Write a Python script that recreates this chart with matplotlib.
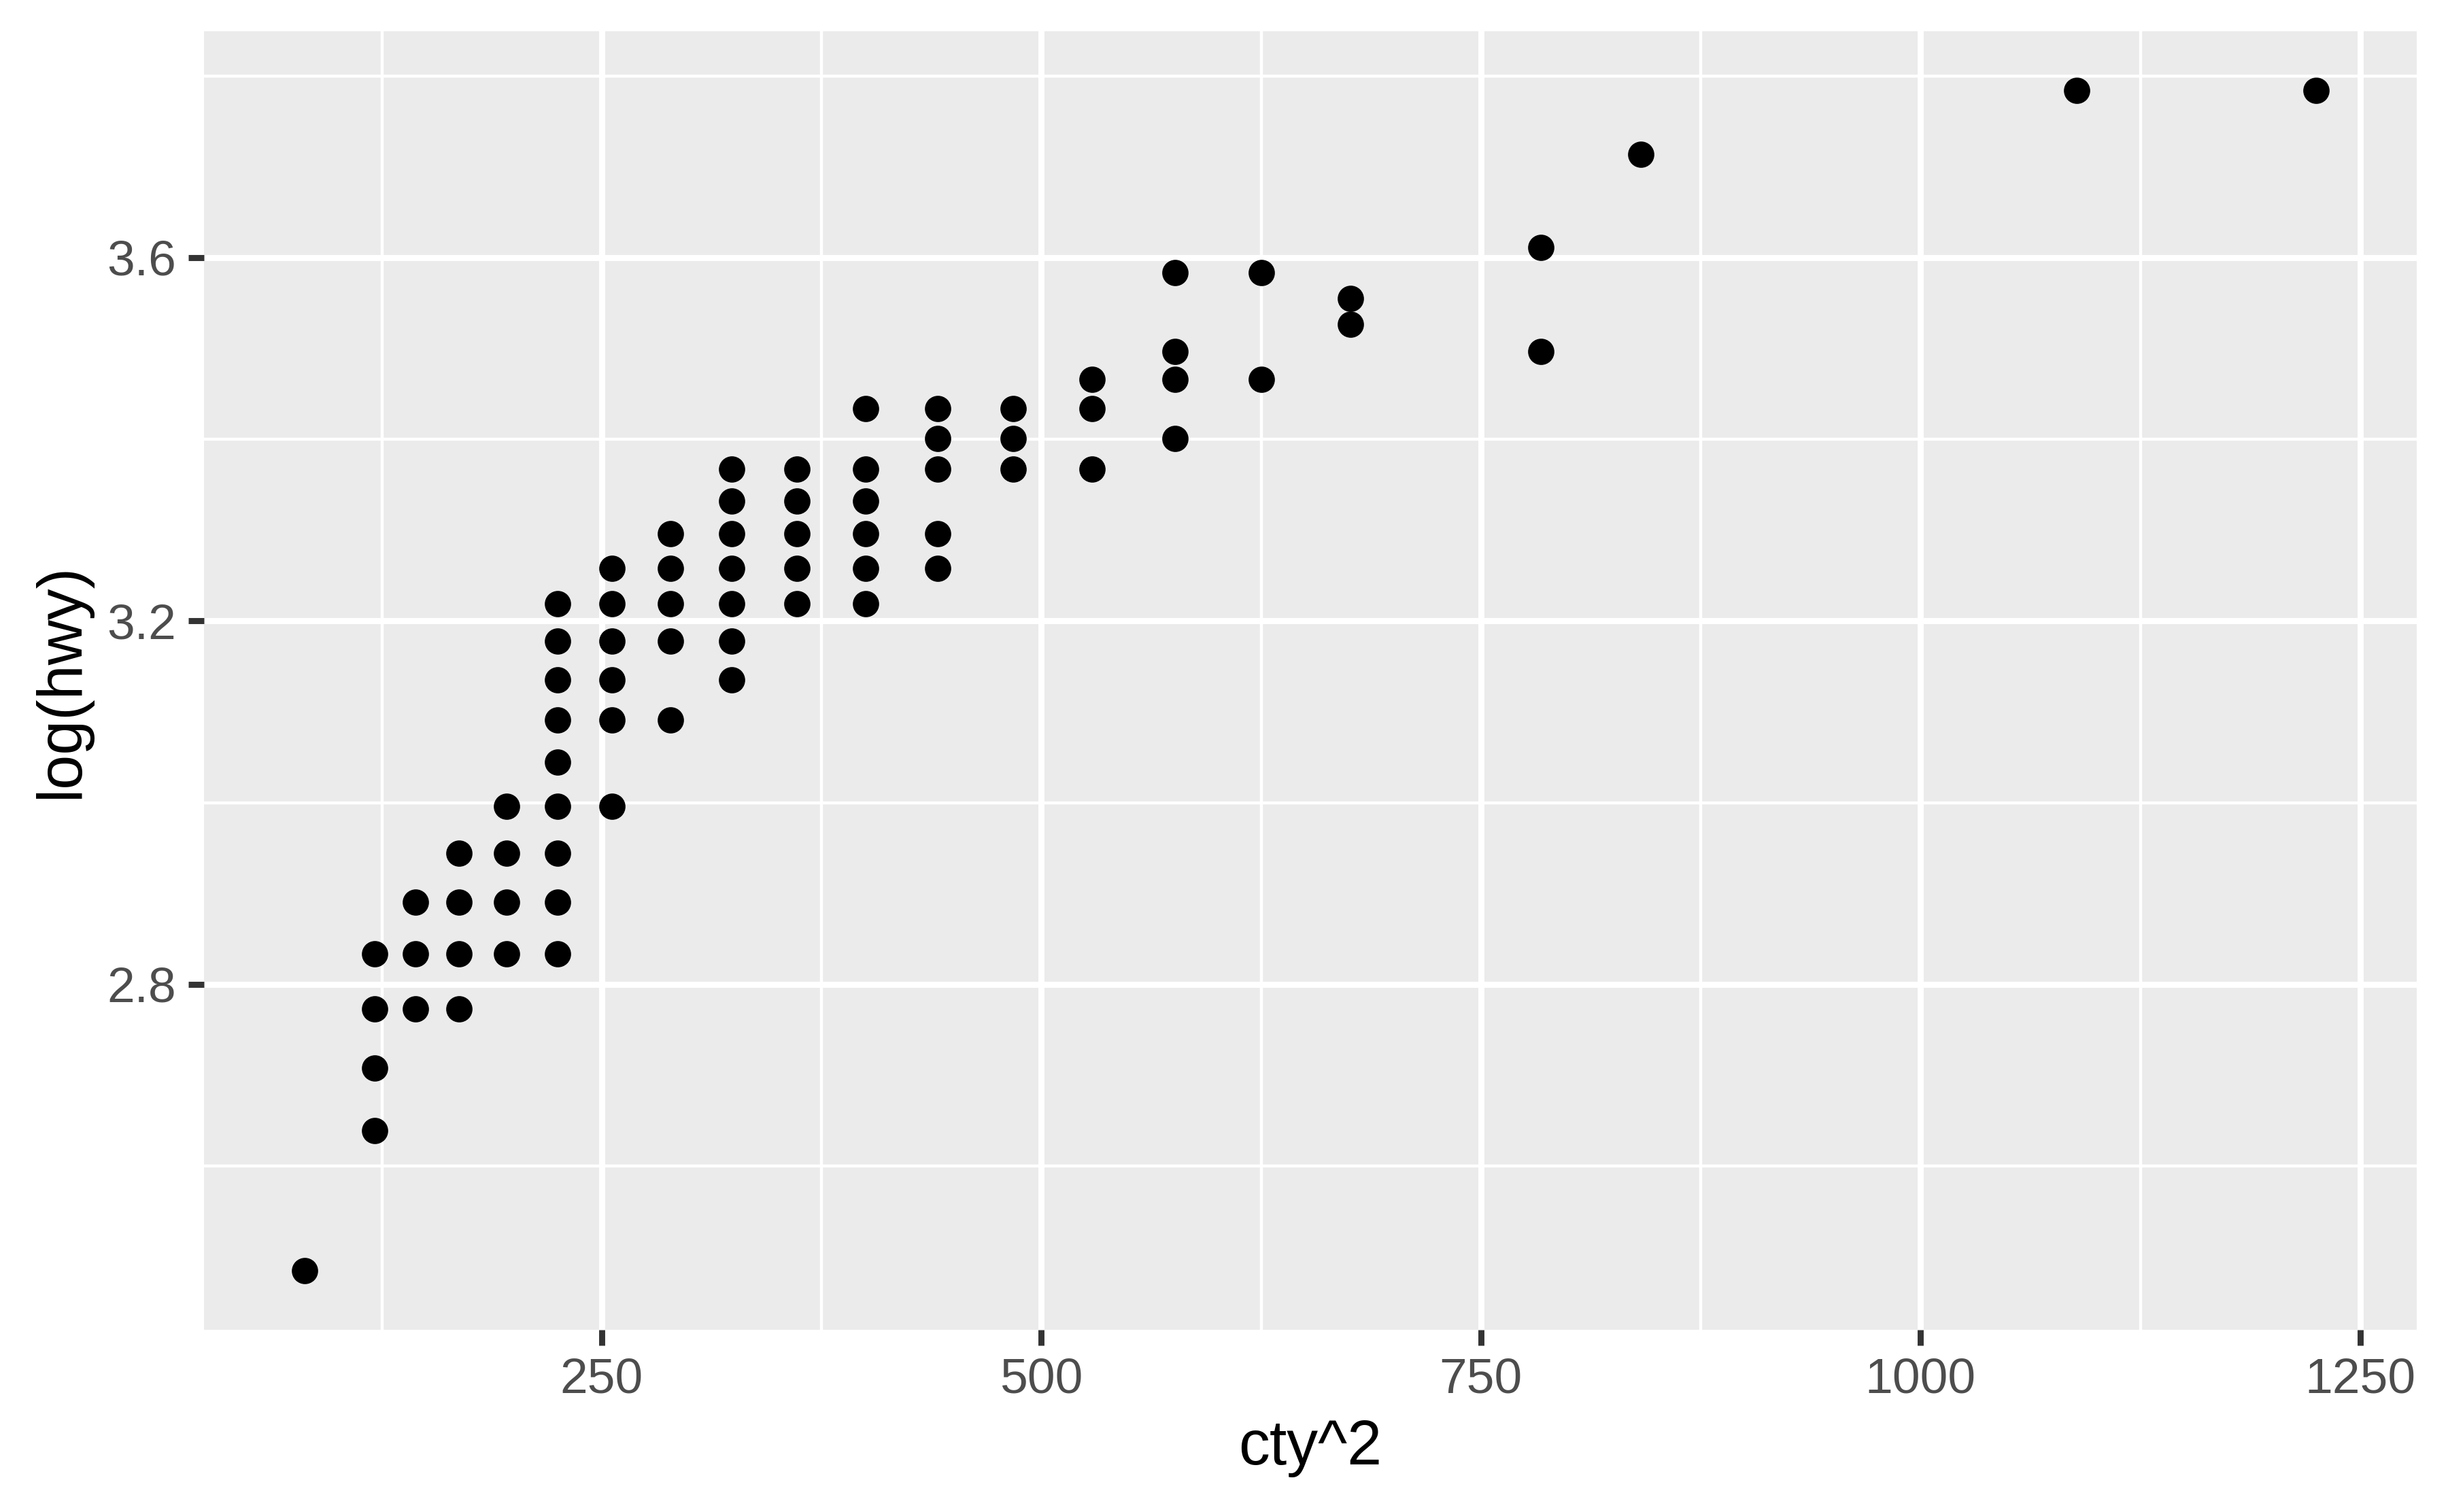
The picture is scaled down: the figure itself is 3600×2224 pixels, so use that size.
import numpy as np
import matplotlib
matplotlib.use("Agg")
import matplotlib.pyplot as plt
from matplotlib.ticker import FixedLocator

# unique (cty, hwy) combinations (mpg data)
cty = [9,
       11, 11, 11, 11,
       12, 12, 12,
       13, 13, 13, 13,
       14, 14, 14, 14,
       15, 15, 15, 15, 15, 15, 15, 15, 15,
       16, 16, 16, 16, 16, 16,
       17, 17, 17, 17, 17,
       18, 18, 18, 18, 18, 18, 18,
       19, 19, 19, 19, 19,
       20, 20, 20, 20, 20, 20,
       21, 21, 21, 21, 21,
       22, 22, 22,
       23, 23, 23,
       24, 24, 24, 24,
       25, 25,
       26, 26,
       28, 28,
       29,
       33,
       35]
hwy = [12,
       14, 15, 16, 17,
       16, 17, 18,
       16, 17, 18, 19,
       17, 18, 19, 20,
       17, 18, 19, 20, 21, 22, 23, 24, 25,
       20, 22, 23, 24, 25, 26,
       22, 24, 25, 26, 27,
       23, 24, 25, 26, 27, 28, 29,
       25, 26, 27, 28, 29,
       25, 26, 27, 28, 29, 31,
       26, 27, 29, 30, 31,
       29, 30, 31,
       29, 31, 32,
       30, 32, 33, 36,
       32, 36,
       34, 35,
       33, 37,
       41,
       44,
       44]

x_major = [250, 500, 750, 1000, 1250]
x_minor = [125, 375, 625, 875, 1125]
y_major = [2.8, 3.2, 3.6]
y_minor = [2.6, 3.0, 3.4, 3.8]
x_title = "cty^2"
y_title = "log(hwy)"

x = np.array(cty, dtype=float) ** 2
y = np.log(np.array(hwy, dtype=float))

plt.rcParams['font.family'] = ['Liberation Sans', 'DejaVu Sans']

fig = plt.figure(figsize=(6, 2224 / 600), dpi=600)
ax = fig.add_axes([300 / 3600, 1 - 1955.7 / 2224, (3554 - 300) / 3600, (1955.7 - 46) / 2224])
ax.set_facecolor('#EBEBEB')
for s in ax.spines.values():
    s.set_visible(False)

xr = x.max() - x.min()
yr = y.max() - y.min()
ax.set_xlim(x.min() - 0.05 * xr, x.max() + 0.05 * xr)
ax.set_ylim(y.min() - 0.05 * yr, y.max() + 0.05 * yr)

ax.xaxis.set_major_locator(FixedLocator(x_major))
ax.xaxis.set_minor_locator(FixedLocator(x_minor))
ax.yaxis.set_major_locator(FixedLocator(y_major))
ax.yaxis.set_minor_locator(FixedLocator(y_minor))
ax.set_xticklabels([str(v) for v in x_major])
ax.set_yticklabels([f"{v:.1f}" for v in y_major])

ax.grid(which='major', color='white', linewidth=1.07)
ax.grid(which='minor', color='white', linewidth=0.53)
ax.set_axisbelow(True)

ax.tick_params(which='major', length=2.75, width=1.07, color='#333333',
               labelsize=8.8, labelcolor='#4D4D4D', pad=2.2)
ax.tick_params(which='minor', length=0)

ax.scatter(x, y, s=4.64 ** 2, c='black', linewidths=0, zorder=3)

ax.set_xlabel(x_title, fontsize=11, color='black', labelpad=2.75)
ax.set_ylabel(y_title, fontsize=11, color='black', labelpad=2.75)

fig.savefig('out.png', dpi=600, facecolor='white')
